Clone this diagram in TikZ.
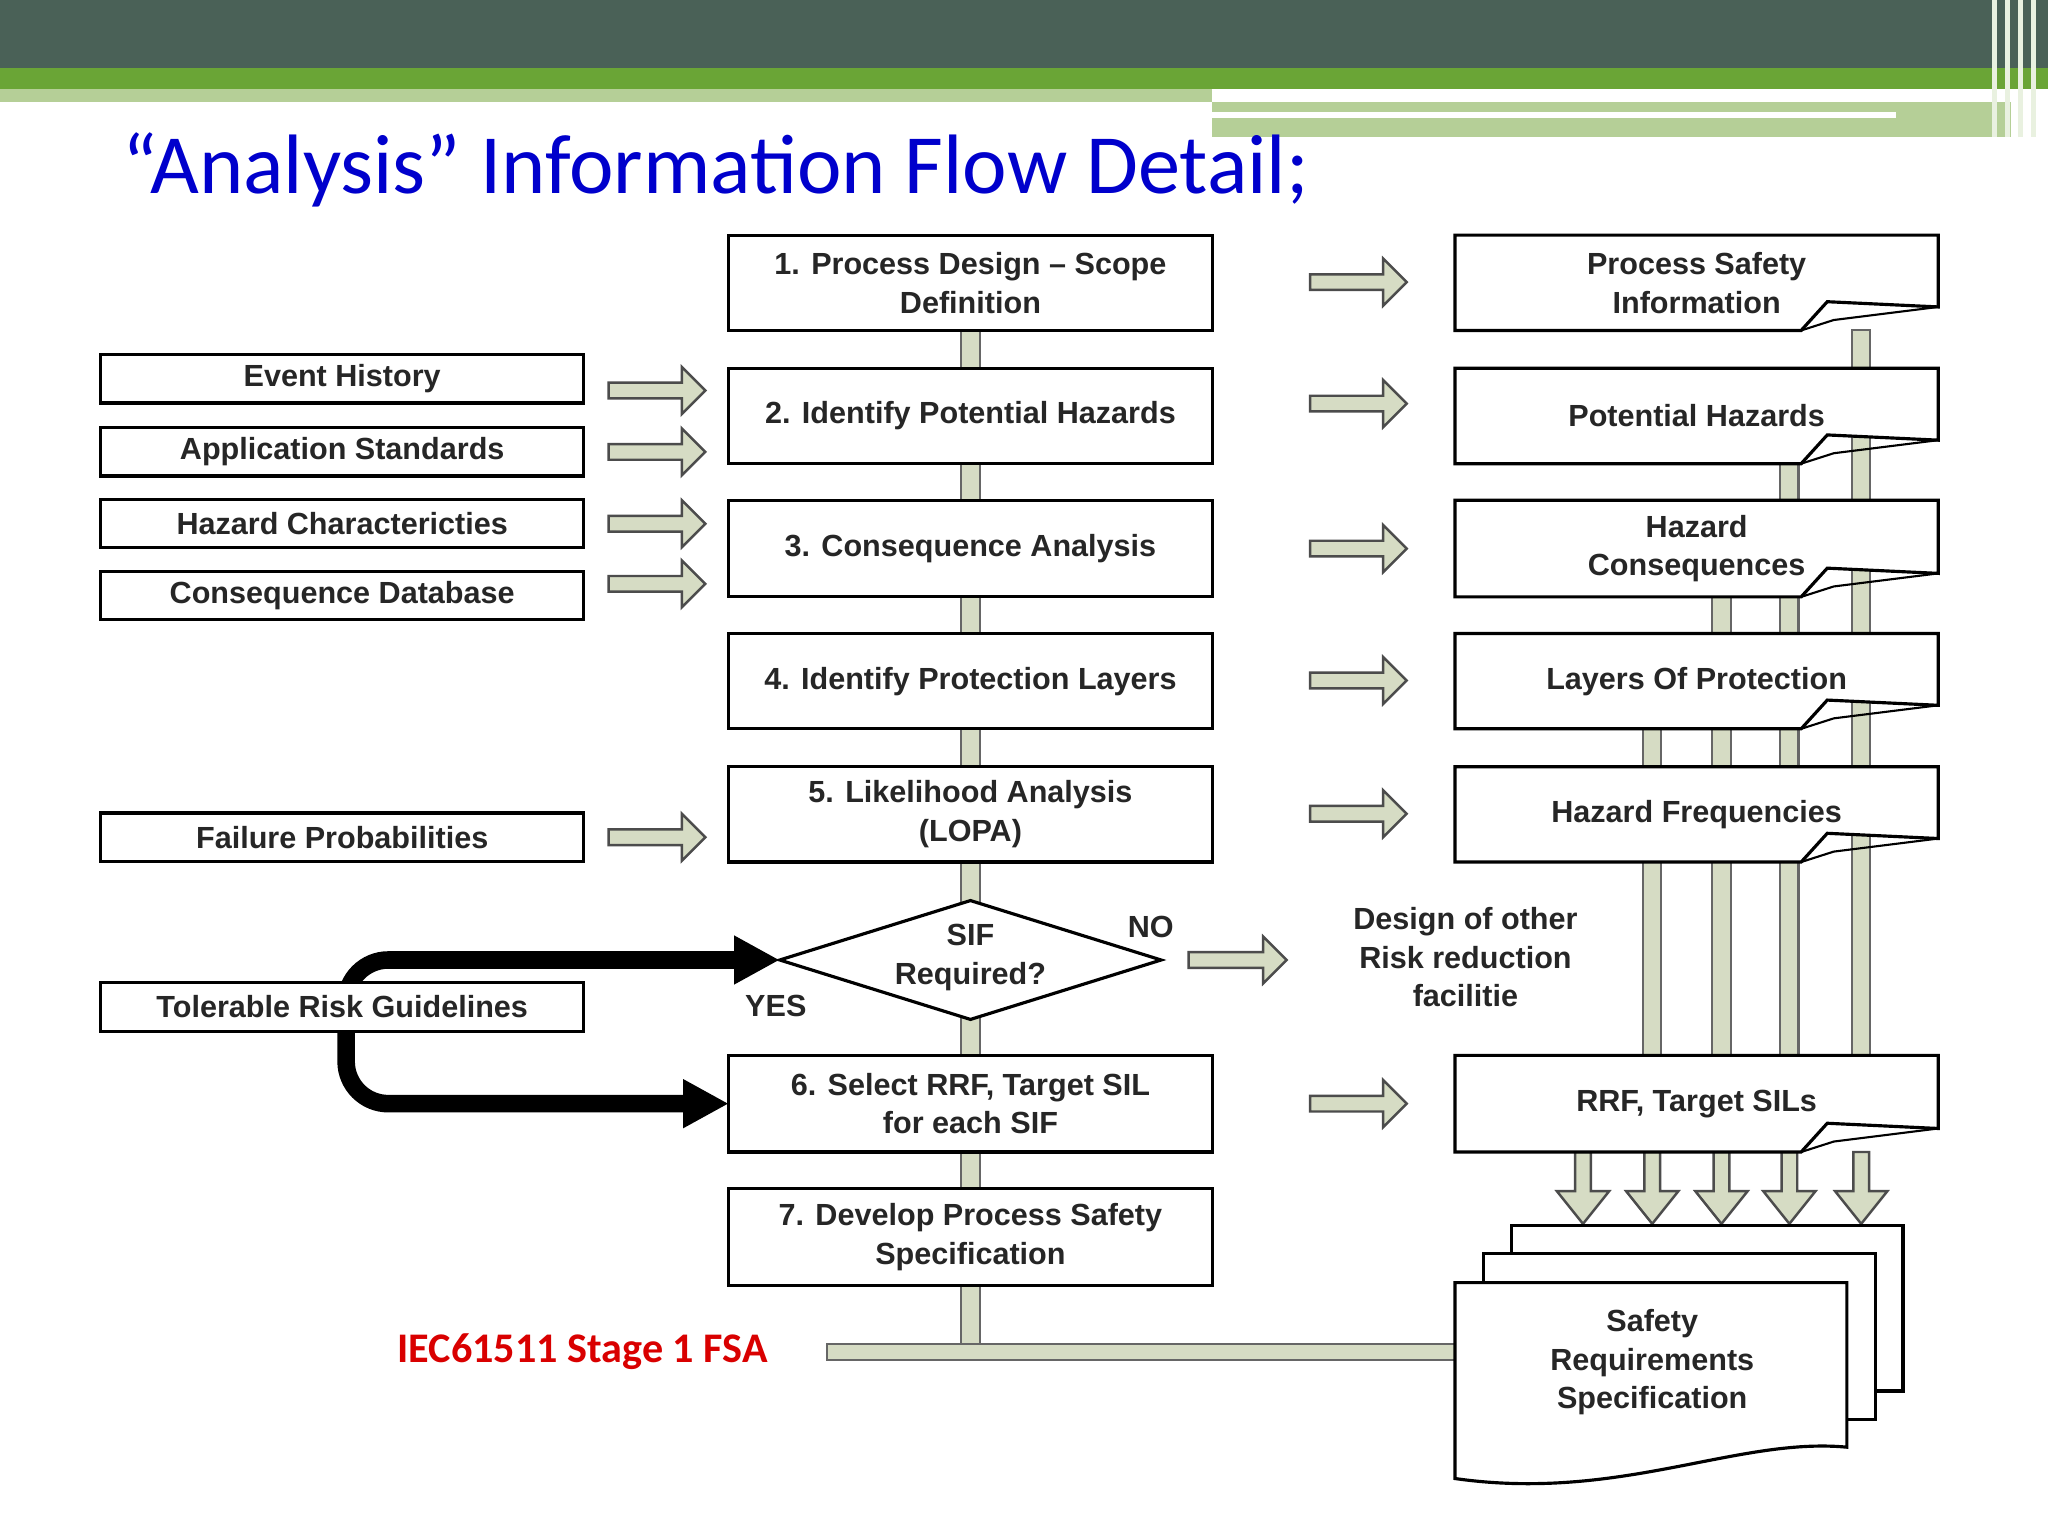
\documentclass[tikz,border=0pt]{standalone}
\usepackage{fontspec}
\setmainfont{Liberation Sans}
\newfontfamily\calib{Carlito}
\usetikzlibrary{shapes.geometric,arrows.meta}
\definecolor{bar}{HTML}{D6DCC4}
\definecolor{dkg}{HTML}{4A6157}
\definecolor{gr}{HTML}{6AA536}
\definecolor{lgr}{HTML}{B5CF97}
\newcommand{\harr}[3]{\fill[bar,draw=black!70,line width=0.7pt] (#1,#3-6)--(#2-18,#3-6)--(#2-18,#3-18)--(#2,#3)--(#2-18,#3+18)--(#2-18,#3+6)--(#1,#3+6)--cycle;}
\newcommand{\varr}[3]{\fill[bar,draw=black!70,line width=0.7pt] (#1-6,#2)--(#1-6,#3-25)--(#1-20,#3-25)--(#1,#3)--(#1+20,#3-25)--(#1+6,#3-25)--(#1+6,#2)--cycle;}
\newcommand{\vbar}[3]{\fill[bar,draw=black!60,line width=0.6pt] (#1-7,#2) rectangle (#1+7,#3);}
\newcommand{\docshape}[5]{\draw[line width=0.9pt,fill=white] (#1,#2)--(#3,#2)--(#3,#4-18)--(#3-85,#4-22)--(#3-105,#4)--(#1,#4)--cycle;
 \draw[line width=0.6pt] (#3-105,#4)--(#3-80,#4-8)--(#3,#4-18);
 \node[txt] at ({(#1+#3)/2},{(#2+#4)/2}) {#5};}
\begin{document}
\begin{tikzpicture}[x=0.01306cm,y=-0.01306cm,
 txt/.style={font=\fontsize{8.7}{11}\selectfont\bfseries,align=center,text=black!85},
 box/.style={draw,line width=0.9pt,fill=white}]
\useasboundingbox (0,0) rectangle (1568,1176);
\fill[white] (0,0) rectangle (1568,1176);
\fill[dkg] (0,0) rectangle (1568,52);
\fill[gr] (0,52) rectangle (1568,68);
\fill[lgr] (0,68) rectangle (928,78);
\fill[lgr] (928,78) rectangle (1540,105);
\fill[white] (928,86) rectangle (1452,90);
\foreach \x in {1525,1535,1545,1555}{\fill[white!70!lgr] (\x,0) rectangle (\x+4,105);}
\node[anchor=west,text=blue!80!black,font=\calib\fontsize{24}{28}\selectfont] (title) at (84,130) {“Analysis” Information Flow Detail;};
% centre bars
\vbar{743}{253}{1035}
\fill[bar,draw=black!60,line width=0.6pt] (633,1029) rectangle (1114,1041);
% right bars
\vbar{1425}{253}{808}
\vbar{1370}{355}{808}
\vbar{1318}{457}{808}
\vbar{1265}{558}{808}
\foreach \x in {1212,1265,1318,1370,1425}{\varr{\x}{882}{937}}
% black arrows (behind)
\draw[line width=5pt,rounded corners=12pt,-{Triangle[length=13pt,width=13pt]}] (265,771)--(265,735)--(597,735);
\draw[line width=5pt,rounded corners=12pt,-{Triangle[length=13pt,width=13pt]}] (265,771)--(265,845)--(558,845);
% centre boxes
\foreach \n/\a/\b/\t in {b1/180/253/{1. Process Design -- Scope\\Definition},b2/282/355/{2. Identify Potential Hazards},b3/383/457/{3. Consequence Analysis},b4/485/558/{4. Identify Protection Layers},b5/587/660/{5. Likelihood Analysis\\(LOPA)},b6/808/882/{6. Select RRF, Target SIL\\for each SIF},b7/910/984/{7. Develop Process Safety\\Specification}}{
 \draw[box] (558,\a) rectangle (928,\b);
 \node[txt] (\n) at (743,{(\a+\b)/2}) {\t};}
\node[diamond,draw,line width=0.9pt,fill=white,minimum width=293*0.01306cm,minimum height=92*0.01306cm,inner sep=0pt] (d) at (743,735) {};
\node[txt] (dt) at (743,733) {SIF\\Required?};
\node[txt] (no) at (881,710) {NO};
\node[txt] (yes) at (594,770) {YES};
% left boxes
\foreach \n/\y/\t in {l1/290/Event History,l2/346/Application Standards,l3/401/Hazard Charactericties,l4/456/Consequence Database,l5/641/Failure Probabilities,l6/771/Tolerable Risk Guidelines}{
 \draw[box] (77,\y-18.5) rectangle (447,\y+18.5);
 \node[txt] (\n) at (262,\y) {\t};}
\foreach \y in {299,346,401,447,641}{\harr{466}{540}{\y}}
\foreach \y in {216,309,420,521,623,845}{\harr{1003}{1077}{\y}}
\harr{910}{985}{735}
% docs
\docshape{1114}{180}{1484}{253}{Process Safety\\Information}
\docshape{1114}{282}{1484}{355}{Potential Hazards}
\docshape{1114}{383}{1484}{457}{Hazard\\Consequences}
\docshape{1114}{485}{1484}{558}{Layers Of Protection}
\docshape{1114}{587}{1484}{660}{Hazard Frequencies}
\docshape{1114}{808}{1484}{882}{RRF, Target SILs}
\node[txt] (other) at (1122,733) {Design of other\\Risk reduction\\facilitie};
% SRS stack
\draw[line width=0.9pt,fill=white] (1157,938) rectangle (1457,1065);
\draw[line width=0.9pt,fill=white] (1136,960) rectangle (1436,1087);
\draw[line width=0.9pt,fill=white] (1114,982)--(1414,982)--(1414,1108) .. controls (1330,1100) and (1240,1150) .. (1114,1132)--cycle;
\node[txt] (srs) at (1265,1043) {Safety\\Requirements\\Specification};
\node[text=red!85!black,font=\calib\bfseries\fontsize{12}{14}\selectfont] (iec) at (446,1035) {IEC61511 Stage 1 FSA};
\end{tikzpicture}
\end{document}
